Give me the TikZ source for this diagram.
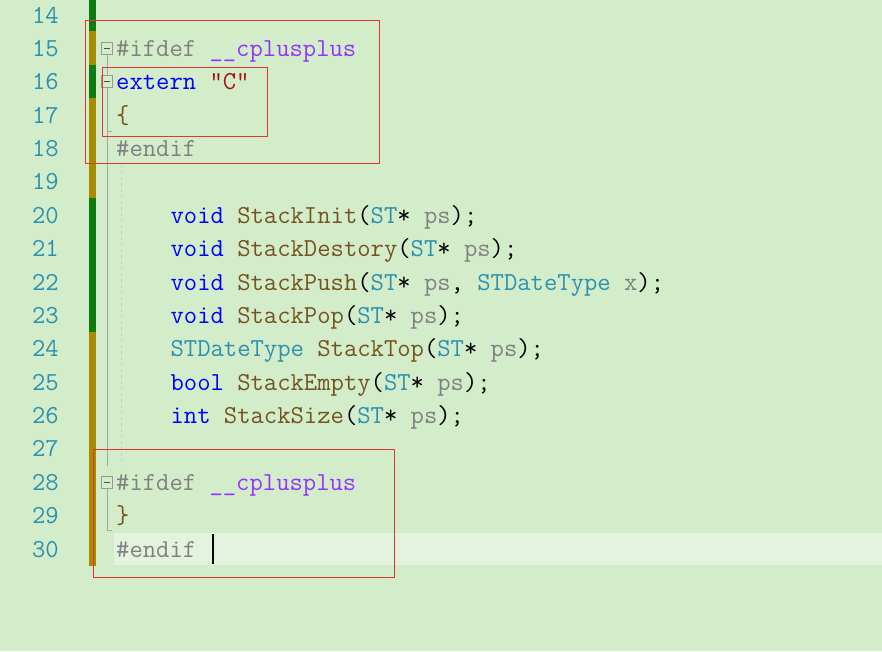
\documentclass[tikz,border=0pt]{standalone}
\usepackage{fontspec}
\newcommand{\codefont}{\ttfamily}
\definecolor{bg}{RGB}{211,237,203}
\definecolor{lnum}{RGB}{43,145,175}
\definecolor{kw}{RGB}{0,0,255}
\definecolor{pp}{RGB}{128,128,128}
\definecolor{mac}{RGB}{150,50,255}
\definecolor{str}{RGB}{163,21,21}
\definecolor{fn}{RGB}{116,83,31}
\definecolor{ty}{RGB}{43,145,175}
\definecolor{gbar}{RGB}{16,124,16}
\definecolor{obar}{RGB}{168,140,0}
\definecolor{cur}{RGB}{228,243,222}
\definecolor{rbox}{RGB}{235,50,50}
\newcommand{\K}[1]{\textcolor{kw}{#1}}
\newcommand{\PP}[1]{\textcolor{pp}{#1}}
\newcommand{\M}[1]{\textcolor{mac}{#1}}
\newcommand{\F}[1]{\textcolor{fn}{#1}}
\newcommand{\T}[1]{\textcolor{ty}{#1}}
\tikzset{code/.style={anchor=base west,inner sep=0pt,font=\codefont\fontsize{25.9}{28}\selectfont},
num/.style={anchor=base east,inner sep=0pt,text=lnum,font=\codefont\fontsize{25.9}{28}\selectfont},
hl/.style={draw=rbox,line width=1pt},
fold/.style={draw=pp!80,fill=bg,line width=0.8pt}}
\begin{document}
\begin{tikzpicture}[x=1pt,y=-1pt]
\fill[bg] (0,0) rectangle (882,651);
\useasboundingbox (0,0) rectangle (882,651);
% current line
\fill[cur] (114,533) rectangle (882,565);
% gutter bars
\fill[gbar] (89,0) rectangle (96,31);
\fill[obar] (89,31) rectangle (96,65);
\fill[gbar] (89,65) rectangle (96,98);
\fill[obar] (89,98) rectangle (96,198);
\fill[gbar] (89,198) rectangle (96,332);
\fill[obar] (89,332) rectangle (96,566);
% fold guides
\draw[pp!70,line width=0.8pt] (107,55) -- (107,131) -- (112,131);
\draw[pp!70,line width=0.8pt] (107,131) -- (107,466);
\draw[pp!70,line width=0.8pt] (107,488) -- (107,530) -- (112,530);
\draw[pp!40,dashed,line width=0.8pt] (121,165) -- (121,465);
\foreach \yy in {48,81,482}{
  \draw[fold] (101,\yy-6) rectangle (112,\yy+6);
  \draw[black!70,line width=0.8pt] (103.5,\yy) -- (109.5,\yy);
}
% line numbers
\foreach \n [count=\i from 0] in {14,...,30}{
  \node[num] (n\n) at (59,{23+\i*33.375}) {\n};
}
\def\bl#1{{23+(#1-14)*33.375}}
\node[code] (l15) at (116,\bl{15}) {\PP{\#ifdef} \M{\_\_cplusplus}};
\node[code] (l16) at (116,\bl{16}) {\K{extern} \textcolor{str}{"C"}};
\node[code] (l17) at (116,\bl{17}) {\textcolor{fn}{\{}};
\node[code] (l18) at (116,\bl{18}) {\PP{\#endif}};
\node[code] (l20) at (170.4,\bl{20}) {\K{void} \F{StackInit}(\T{ST}* \PP{ps});};
\node[code] (l21) at (170.4,\bl{21}) {\K{void} \F{StackDestory}(\T{ST}* \PP{ps});};
\node[code] (l22) at (170.4,\bl{22}) {\K{void} \F{StackPush}(\T{ST}* \PP{ps}, \T{STDateType} \PP{x});};
\node[code] (l23) at (170.4,\bl{23}) {\K{void} \F{StackPop}(\T{ST}* \PP{ps});};
\node[code] (l24) at (170.4,\bl{24}) {\T{STDateType} \F{StackTop}(\T{ST}* \PP{ps});};
\node[code] (l25) at (170.4,\bl{25}) {\K{bool} \F{StackEmpty}(\T{ST}* \PP{ps});};
\node[code] (l26) at (170.4,\bl{26}) {\K{int} \F{StackSize}(\T{ST}* \PP{ps});};
\node[code] (l28) at (116,\bl{28}) {\PP{\#ifdef} \M{\_\_cplusplus}};
\node[code] (l29) at (116,\bl{29}) {\textcolor{fn}{\}}};
\node[code] (l30) at (116,\bl{30}) {\PP{\#endif}};
% cursor
\draw[black,line width=1.5pt] (213,534) -- (213,564);
% red boxes
\draw[hl] (85,20) rectangle (379,163);
\draw[hl] (102,67) rectangle (267,136);
\draw[hl] (93,449) rectangle (394,577);
\end{tikzpicture}
\end{document}
